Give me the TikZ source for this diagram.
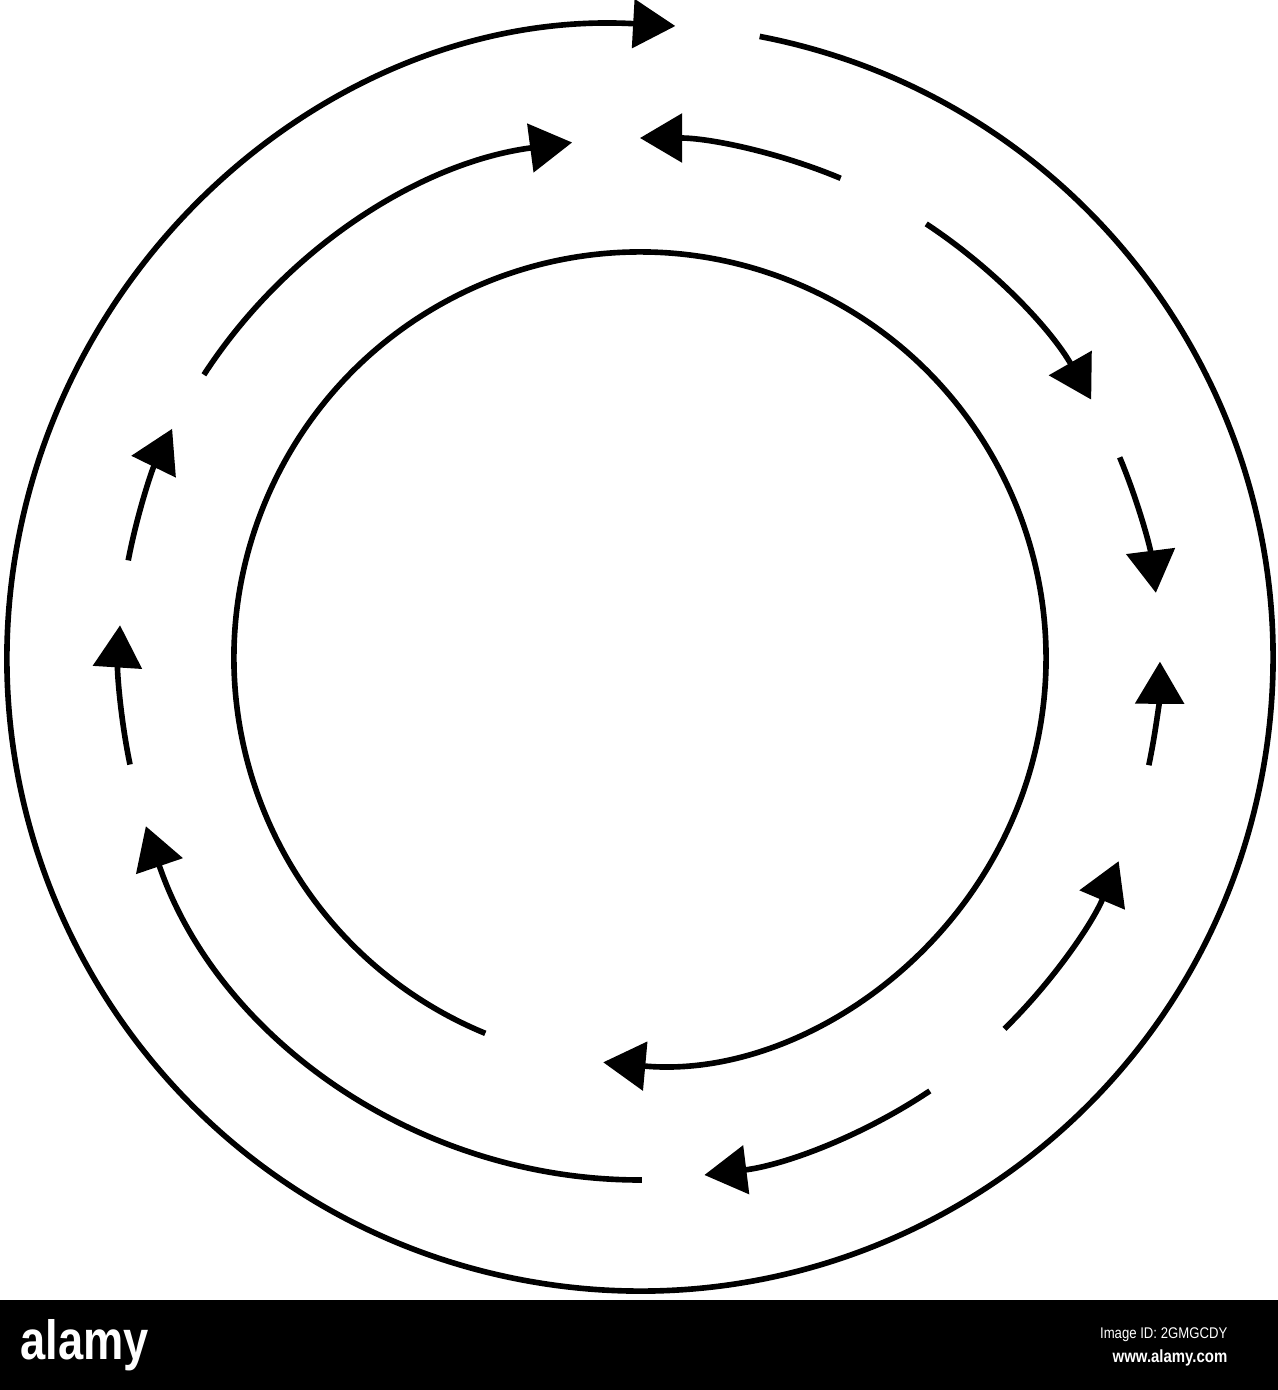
\documentclass[tikz,border=0pt]{standalone}
\usepackage{fontspec}
\newfontfamily\alamyfont{Liberation Sans}
\usepackage{tikz}
\usetikzlibrary{arrows.meta}

\begin{document}
\begin{tikzpicture}[x=0.01cm, y=0.01cm,
            arc arrow/.style={line width=1.6pt, -{Triangle[length=12pt, width=13.7pt]}}]
            \useasboundingbox (-640,-732) rectangle (638,658);
            \coordinate (c) at (0,0);

            \draw[arc arrow] (79.1:633) arc[start angle=79.1, end angle=-273.2, radius=633];
            \draw[arc arrow] (247.6:406) arc[start angle=247.6, end angle=-95.2, radius=406];

            \draw[arc arrow] (147:520) arc[start angle=147, end angle=97.5, radius=520];
            \draw[arc arrow] (67.3:520) arc[start angle=67.3, end angle=90, radius=520];
            \draw[arc arrow] (56.6:520) arc[start angle=56.6, end angle=29.8, radius=520];
            \draw[arc arrow] (22.7:520) arc[start angle=22.7, end angle=7.2, radius=520];
            \draw[arc arrow] (-11.9:520) arc[start angle=-11.9, end angle=-0.4, radius=520];
            \draw[arc arrow] (-45.5:520) arc[start angle=-45.5, end angle=-23, radius=520];
            \draw[arc arrow] (-56.2:521) arc[start angle=-56.2, end angle=-82.9, radius=521];
            \draw[arc arrow] (-89.8:522) arc[start angle=-89.8, end angle=-161.2, radius=522];
            \draw[arc arrow] (-168.2:521) arc[start angle=-168.2, end angle=-183.6, radius=521];
            \draw[arc arrow] (169.2:521) arc[start angle=169.2, end angle=153.9, radius=521];

            \fill (-640,-642) rectangle (638,-732);
            \node[anchor=base west, inner sep=0, text=white,
                  font={\alamyfont\bfseries\fontsize{15.7pt}{16pt}\selectfont}] (logo) at (-620,-701) {\scalebox{0.82}[1]{alamy}};
            \node[anchor=base east, inner sep=0, text=white,
                  font={\alamyfont\fontsize{4.4pt}{5pt}\selectfont}] (imgid) at (588,-680) {\scalebox{0.85}[1]{Image ID: 2GMGCDY}};
            \node[anchor=base east, inner sep=0, text=white,
                  font={\alamyfont\bfseries\fontsize{5pt}{6pt}\selectfont}] (site) at (588,-704) {\scalebox{0.85}[1]{www.alamy.com}};
\end{tikzpicture}
\end{document}
